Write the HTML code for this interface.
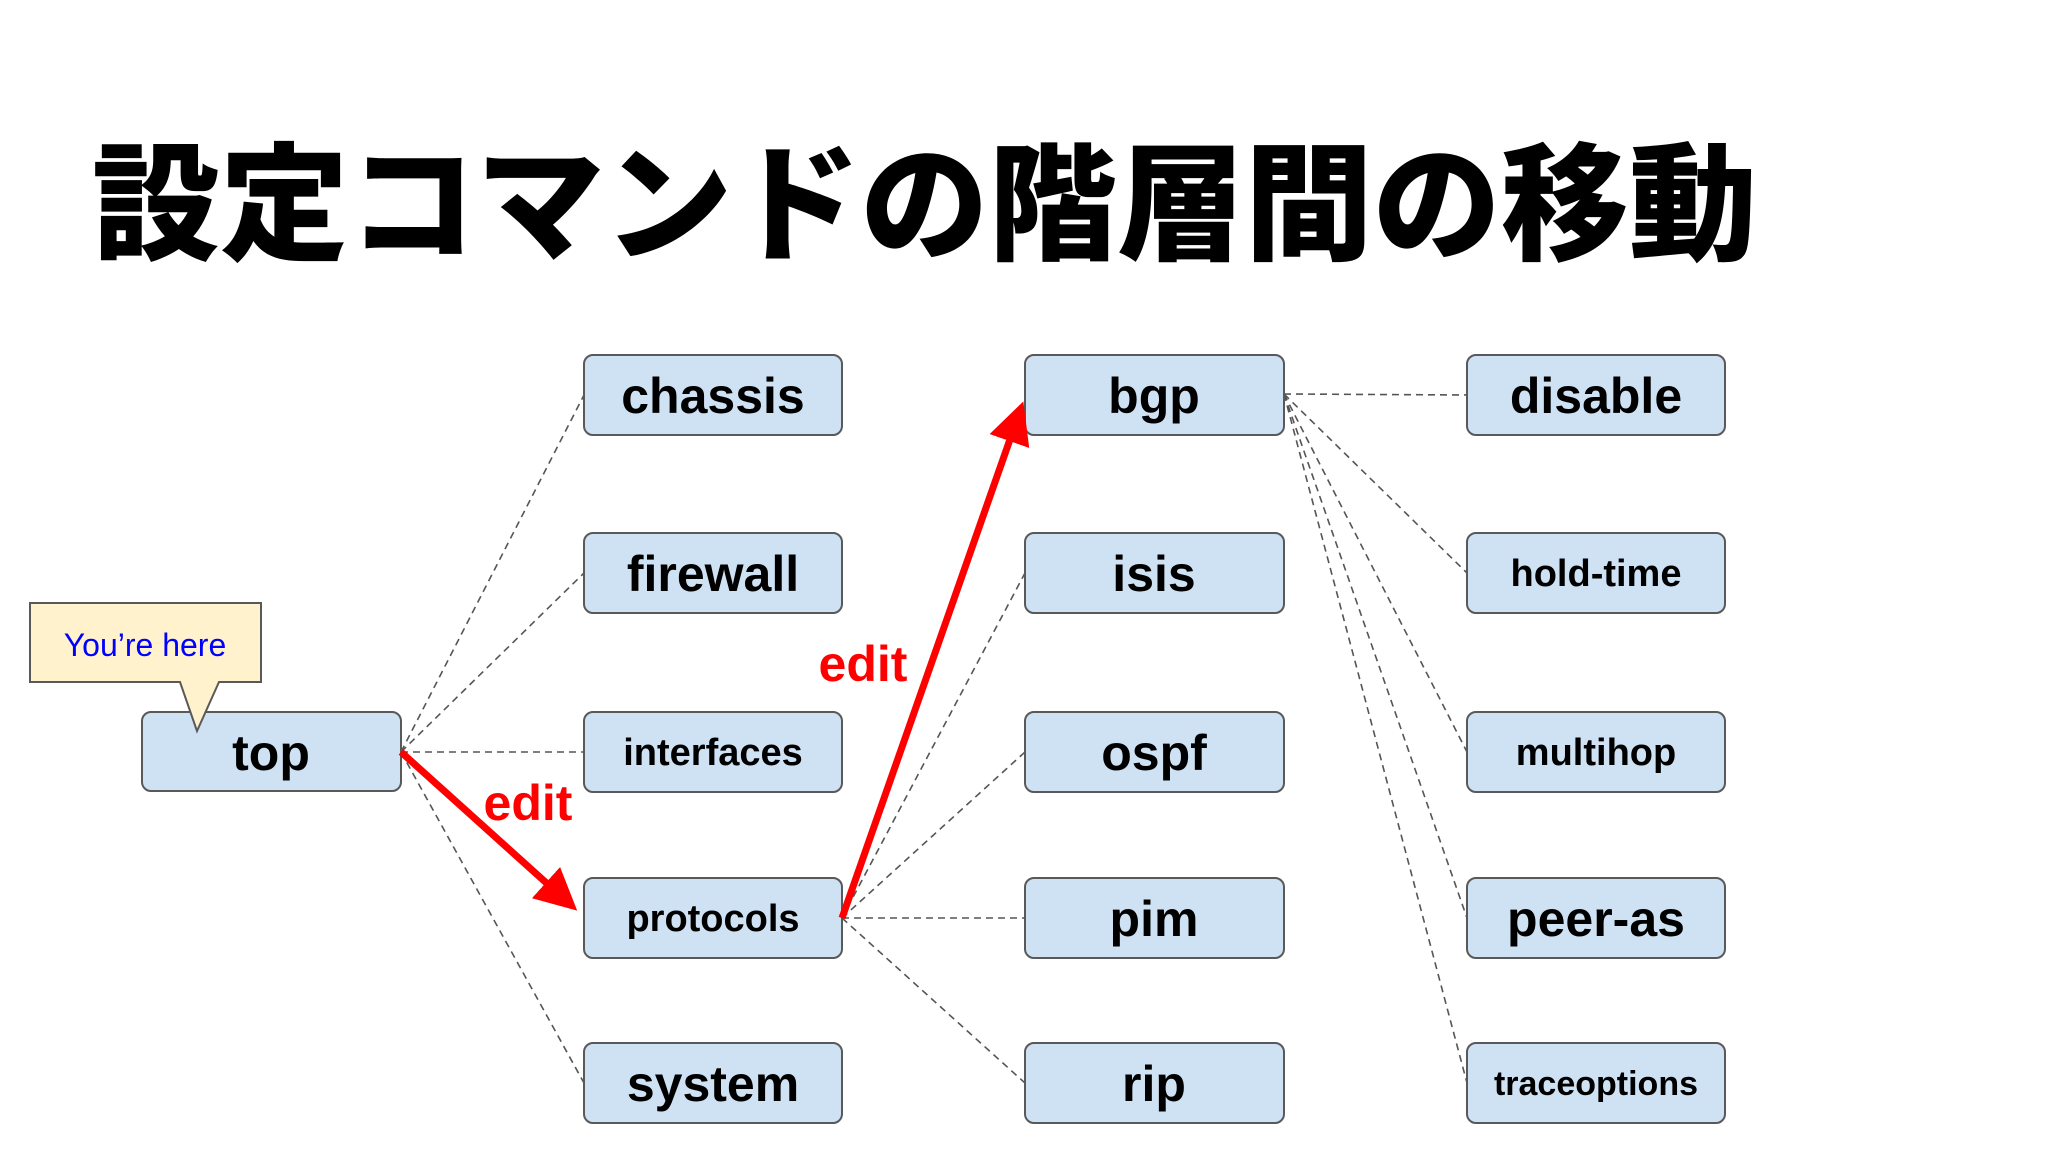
<!DOCTYPE html>
<html><head><meta charset="utf-8"><style>
html,body{margin:0;padding:0;background:#fff;}
svg{display:block;}
.b{fill:#cfe2f3;stroke:#595959;stroke-width:2;}
.t{font-family:"Liberation Sans",sans-serif;font-weight:bold;fill:#000;text-anchor:middle;dominant-baseline:central;}
.d{stroke:#555;stroke-width:1.6;stroke-dasharray:7 5;fill:none;}
</style></head><body>
<svg width="2048" height="1152" viewBox="0 0 2048 1152" xmlns="http://www.w3.org/2000/svg">
<defs><marker id="ah" markerWidth="6" markerHeight="6" refX="5" refY="3" orient="auto" markerUnits="strokeWidth"><path d="M0,0 L6,3 L0,6 z" fill="#ff0000"/></marker></defs>
<text x="92" y="250" font-family="'Liberation Sans','Noto Sans CJK JP',sans-serif" font-weight="900" font-size="128" fill="#000" textLength="1665" lengthAdjust="spacingAndGlyphs">設定コマンドの階層間の移動</text>
<!-- dashed -->
<g class="d">
<path d="M401,752 L584,395"/><path d="M401,752 L584,573"/><path d="M401,752 L584,752"/><path d="M401,752 L584,1083"/>
<path d="M842,918 L1025,573"/><path d="M842,918 L1025,752"/><path d="M842,918 L1025,918"/><path d="M842,918 L1025,1083"/>
<path d="M1284,394 L1467,395"/><path d="M1284,394 L1467,573"/><path d="M1284,394 L1467,752"/><path d="M1284,394 L1467,918"/><path d="M1284,394 L1467,1083"/>
</g>
<!-- boxes -->
<g>
<rect class="b" x="142" y="712" width="259" height="79" rx="9"/>
<rect class="b" x="584" y="355" width="258" height="80" rx="9"/>
<rect class="b" x="584" y="533" width="258" height="80" rx="9"/>
<rect class="b" x="584" y="712" width="258" height="80" rx="9"/>
<rect class="b" x="584" y="878" width="258" height="80" rx="9"/>
<rect class="b" x="584" y="1043" width="258" height="80" rx="9"/>
<rect class="b" x="1025" y="355" width="259" height="80" rx="9"/>
<rect class="b" x="1025" y="533" width="259" height="80" rx="9"/>
<rect class="b" x="1025" y="712" width="259" height="80" rx="9"/>
<rect class="b" x="1025" y="878" width="259" height="80" rx="9"/>
<rect class="b" x="1025" y="1043" width="259" height="80" rx="9"/>
<rect class="b" x="1467" y="355" width="258" height="80" rx="9"/>
<rect class="b" x="1467" y="533" width="258" height="80" rx="9"/>
<rect class="b" x="1467" y="712" width="258" height="80" rx="9"/>
<rect class="b" x="1467" y="878" width="258" height="80" rx="9"/>
<rect class="b" x="1467" y="1043" width="258" height="80" rx="9"/>
</g>
<g class="t">
<text x="271" y="753" font-size="50">top</text>
<text x="713" y="396" font-size="50">chassis</text>
<text x="713" y="574" font-size="50">firewall</text>
<text x="713" y="753" font-size="38">interfaces</text>
<text x="713" y="919" font-size="38">protocols</text>
<text x="713" y="1084" font-size="50">system</text>
<text x="1154" y="396" font-size="50">bgp</text>
<text x="1154" y="574" font-size="50">isis</text>
<text x="1154" y="753" font-size="50">ospf</text>
<text x="1154" y="919" font-size="50">pim</text>
<text x="1154" y="1084" font-size="50">rip</text>
<text x="1596" y="396" font-size="50">disable</text>
<text x="1596" y="574" font-size="38">hold-time</text>
<text x="1596" y="753" font-size="38">multihop</text>
<text x="1596" y="919" font-size="50">peer-as</text>
<text x="1596" y="1084" font-size="34">traceoptions</text>
</g>
<!-- callout -->
<path d="M30,603 L261,603 L261,682 L219,682 L197,731 L180,682 L30,682 Z" fill="#fff2cc" stroke="#595959" stroke-width="2"/>
<text x="145" y="645" font-family="'Liberation Sans',sans-serif" font-size="32" fill="#0000ff" text-anchor="middle" dominant-baseline="central">You’re here</text>
<!-- red arrows -->
<line x1="401" y1="752" x2="572" y2="906" stroke="#ff0000" stroke-width="7" marker-end="url(#ah)"/>
<line x1="842" y1="918" x2="1021" y2="408" stroke="#ff0000" stroke-width="7" marker-end="url(#ah)"/>
<text x="528" y="803" font-family="'Liberation Sans',sans-serif" font-weight="bold" font-size="50" fill="#ff0000" text-anchor="middle" dominant-baseline="central">edit</text>
<text x="863" y="664" font-family="'Liberation Sans',sans-serif" font-weight="bold" font-size="50" fill="#ff0000" text-anchor="middle" dominant-baseline="central">edit</text>
</svg>
</body></html>
